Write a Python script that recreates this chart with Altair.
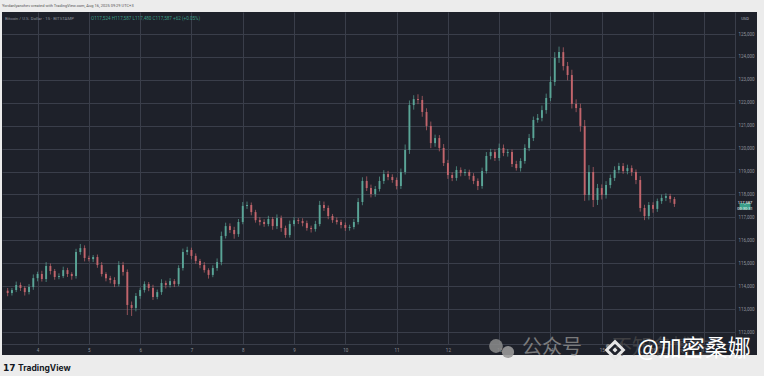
import altair as alt
import pandas as pd

# ---------------- data (2-hour candles, BTC/USD, Aug 3 10:00 -> Aug 16 08:00) ----------------
first_open = 113800
closes = [
    113700, 113830, 114050, 113920, 113740, 113960, 114350, 114530, 114310, 114880,
    114660, 114400, 114440, 114700, 114530, 114440, 115490, 115660, 115230, 115180,
    115270, 114920, 114530, 114350, 114270, 114090, 114920, 114620, 113180, 113050,
    113570, 113830, 114090, 113920, 113530, 113740, 114140, 114050, 114220, 114090,
    114790, 115490, 115580, 115320, 115100, 114920, 114700, 114490, 114790, 115050,
    116190, 116620, 116450, 116270, 116800, 117500, 117540, 117230, 116880, 116800,
    116710, 116930, 116620, 116970, 116540, 116230, 116710, 116880, 116840, 116750,
    116540, 116490, 116710, 117540, 117410, 117060, 116880, 116800, 116670, 116540,
    116580, 116800, 117670, 118590, 118280, 118020, 118240, 118590, 118890, 118760,
    118630, 118370, 118980, 119940, 121900, 122160, 122120, 121600, 120990, 120240,
    120460, 120030, 119370, 118850, 118720, 119070, 118940, 118980, 118810, 118590,
    118370, 119020, 119680, 119850, 119590, 120030, 119810, 119850, 119330, 119150,
    119460, 120030, 120460, 121250, 121340, 121680, 122210, 122910, 123950, 124210,
    123600, 123210, 121950, 121770, 120990, 117980, 118980, 117760, 118280, 117980,
    118410, 118720, 119070, 119240, 119020, 119150, 118980, 118630, 117410, 117060,
    117540, 117370, 117710, 117850, 117930, 117800, 117587,
]
wick_up = [
    120, 90, 150, 110, 80, 130, 160, 100, 140, 170,
    110, 90, 120, 150, 100, 80, 140, 180, 120, 100,
    90, 110, 130, 80, 100, 120, 170, 140, 110, 150,
    130, 100, 120, 90, 140, 110, 160, 100, 130, 90,
    120, 150, 140, 100, 110, 90, 130, 80, 120, 160,
    190, 150, 120, 140, 130, 170, 150, 110, 100, 130,
    120, 140, 90, 160, 110, 100, 150, 130, 90, 120,
    110, 100, 140, 180, 150, 110, 90, 120, 100, 110,
    100, 130, 170, 160, 200, 150, 130, 190, 170, 140,
    120, 110, 150, 240, 200, 170, 210, 180, 160, 190,
    150, 130, 170, 140, 120, 160, 110, 130, 100, 120,
    110, 150, 170, 140, 120, 190, 150, 130, 110, 140,
    120, 160, 180, 150, 170, 200, 190, 240, 260, 240,
    210, 180, 230, 200, 190, 260, 300, 220, 180, 160,
    170, 150, 160, 140, 130, 150, 120, 110, 170, 140,
    130, 120, 110, 150, 120, 100, 90,
]
wick_dn = [
    140, 110, 90, 130, 150, 100, 120, 140, 110, 130,
    150, 120, 100, 90, 130, 160, 110, 120, 150, 100,
    130, 120, 110, 140, 150, 130, 100, 160, 440, 350,
    150, 120, 110, 140, 130, 100, 120, 150, 110, 130,
    90, 110, 130, 150, 120, 140, 110, 160, 100, 120,
    140, 110, 130, 200, 120, 100, 130, 140, 110, 150,
    120, 100, 160, 130, 170, 120, 110, 100, 130, 140,
    120, 150, 110, 100, 130, 140, 120, 110, 150, 130,
    120, 100, 110, 140, 130, 150, 120, 110, 130, 140,
    120, 150, 130, 110, 170, 200, 180, 210, 190, 220,
    160, 150, 130, 170, 140, 120, 150, 130, 160, 140,
    180, 120, 110, 150, 130, 120, 140, 160, 130, 110,
    150, 120, 140, 130, 120, 150, 160, 140, 170, 210,
    190, 230, 200, 180, 250, 260, 240, 310, 220, 200,
    160, 140, 130, 150, 120, 140, 170, 180, 160, 180,
    150, 170, 130, 120, 140, 160, 130,
]
start_hour = -14          # Aug 3 10:00, in hours relative to Aug 4 00:00
candle_hours = 2
day_labels = ["4", "5", "6", "7", "8", "9", "10", "11", "12", "13", "14", "15", "16", "17"]
price_ticks = [112000, 113000, 114000, 115000, 116000, 117000, 118000, 119000,
               120000, 121000, 122000, 123000, 124000, 125000]

# ---------------- table ----------------
n = len(closes)
opens = [first_open] + closes[:-1]
highs = [max(o, c) + u for o, c, u in zip(opens, closes, wick_up)]
lows = [min(o, c) - d for o, c, d in zip(opens, closes, wick_dn)]
df = pd.DataFrame({
    "h": [start_hour + candle_hours * i for i in range(n)],
    "open": opens, "close": closes, "high": highs, "low": lows,
    "dir": ["up" if c >= o else "down" for o, c in zip(opens, closes)],
})

BG = "#1e212a"
LIGHT = "#ececec"
GRID = "#3a3e4a"
GREEN = "#5aa597"
RED = "#c2656c"

xs = alt.Scale(domain=[-14.3077, 324], nice=False, zero=False)
ys = alt.Scale(domain=[111476.5, 125960], nice=False, zero=False)
label_expr = "[" + ",".join(f"'{d}'" for d in day_labels) + "][round(datum.value/24)]"

x_axis = alt.Axis(values=[24 * k for k in range(len(day_labels))], labelExpr=label_expr,
                  grid=True, gridColor=GRID, gridWidth=1, ticks=False, domain=True,
                  domainColor=GRID, labelPadding=3, labelFontSize=4.5, labelColor="#8f939c",
                  labelFont="Roboto", zindex=0, labelFlush=False, labelOverlap=False)
y_axis = alt.Axis(orient="right", values=price_ticks, format=",d", grid=True, gridColor=GRID,
                  gridWidth=1, ticks=False, domain=True, domainColor=GRID, labelPadding=3,
                  labelFontSize=4.5, labelColor="#8f939c", labelFont="Roboto", zindex=0,
                  labelOverlap=False, labelFlush=False)


def X(field):
    return alt.X(field, scale=xs, axis=x_axis, title=None)


def Y(field):
    return alt.Y(field, scale=ys, axis=y_axis, title=None)


col = alt.Color("dir:N", scale=alt.Scale(domain=["up", "down"], range=[GREEN, RED]), legend=None)

one = pd.DataFrame({"a": [0]})

# light frame around the dark TradingView panel
frames = [
    (-2, 762, -12, 0), (-2, 762, 343, 364), (755, 762, -12, 364), (-2, 0, -12, 364),
]
frame_layers = [
    alt.Chart(one).mark_rect(color=LIGHT).encode(
        x=alt.value(a), x2=alt.value(b), y=alt.value(c), y2=alt.value(d))
    for a, b, c, d in frames
]

wicks = alt.Chart(df).mark_rule(strokeWidth=0.7).encode(
    x=X("h:Q"), y=Y("low:Q"), y2="high:Q", color=col)
bodies = alt.Chart(df).mark_bar(size=1.9).encode(
    x=X("h:Q"), y=Y("open:Q"), y2="close:Q", color=col)

# current price tag
last = closes[-1]
tag_df = pd.DataFrame({"p": [last], "l1": [f"{last:,}"], "l2": ["00:30:31"]})
tag = alt.Chart(tag_df).mark_point(shape="M-0.5,-0.3H0.5V0.3H-0.5Z", size=484, filled=True,
                                   opacity=1, color="#3a9e8a", yOffset=2.5).encode(
    x=alt.value(743), y=Y("p:Q"))
tag_t1 = alt.Chart(tag_df).mark_text(fontSize=4, color="white", font="Roboto", yOffset=-0.5).encode(
    x=alt.value(743), y=Y("p:Q"), text="l1:N")
tag_t2 = alt.Chart(tag_df).mark_text(fontSize=4, color="white", font="Roboto", yOffset=5).encode(
    x=alt.value(743), y=Y("p:Q"), text="l2:N")


def txt(s, x, y, size, color, align="left", weight="normal", font="Roboto", opacity=1.0):
    return alt.Chart(pd.DataFrame({"t": [s]})).mark_text(
        align=align, baseline="middle", fontSize=size, color=color, fontWeight=weight,
        font=font, opacity=opacity).encode(x=alt.value(x), y=alt.value(y), text="t:N")


attrib = txt("Yordanlyanchev created with TradingView.com, Aug 16, 2025 09:29 UTC+3", 0, -6, 4, "#555555")
legend1 = txt("Bitcoin / U.S. Dollar · 15 · BITSTAMP", 3, 6.5, 4.3, "#8b8f99")
legend2 = txt("O117,524 H117,587 L117,480 C117,587 +62 (+0.05%)", 89, 6.5, 4.6, "#3b9c86")
usd = txt("USD", 743, 7, 4, "#b2b5be", align="center")
tv_logo = txt("17", 1, 356, 9, "#131722", weight="bold", font="DejaVu Sans")
tv_name = txt("TradingView", 16, 356, 8.5, "#131722", weight="bold", font="Inter")

# watermark
CJK = "Noto Sans CJK SC"
wc1 = alt.Chart(one).mark_circle(opacity=0.85, color="#8c8c8c", size=190).encode(
    x=alt.value(494), y=alt.value(334))
wc2 = alt.Chart(one).mark_circle(opacity=0.9, color="#9a9a9a", size=150).encode(
    x=alt.value(506), y=alt.value(340))
wm1 = txt("公众号", 520, 336, 20, "#8a8a8a", font=CJK, opacity=0.85)
wm_dot = txt("·", 596, 336, 20, "#8a8a8a", font=CJK, opacity=0.85)
wm2 = txt("不知名博主", 610, 336, 20, "#4d4d4d", font=CJK, opacity=0.7)
bn1 = alt.Chart(one).mark_point(shape="diamond", size=280, filled=False, stroke="#e6e6e6",
                                strokeWidth=3, opacity=1).encode(x=alt.value(613), y=alt.value(338))
bn2 = alt.Chart(one).mark_point(shape="diamond", size=25, filled=True, color="#e6e6e6",
                                opacity=1).encode(x=alt.value(613), y=alt.value(338))
wm3 = txt("@加密桑娜", 635, 337, 23, "#ffffff", font=CJK)

chart = alt.layer(
    wicks, bodies, *frame_layers, tag, tag_t1, tag_t2,
    attrib, legend1, legend2, usd, tv_logo, tv_name,
    wc1, wc2, wm1, wm_dot, wm2, bn1, bn2, wm3,
).properties(
    width=733, height=332,
    autosize=alt.AutoSizeParams(type="none"),
    padding={"left": 2, "top": 12, "right": 29, "bottom": 32},
    background=BG,
).configure_view(fill=BG, stroke=None)

chart.save("out.html", embed_options={"renderer": "svg", "actions": False})
